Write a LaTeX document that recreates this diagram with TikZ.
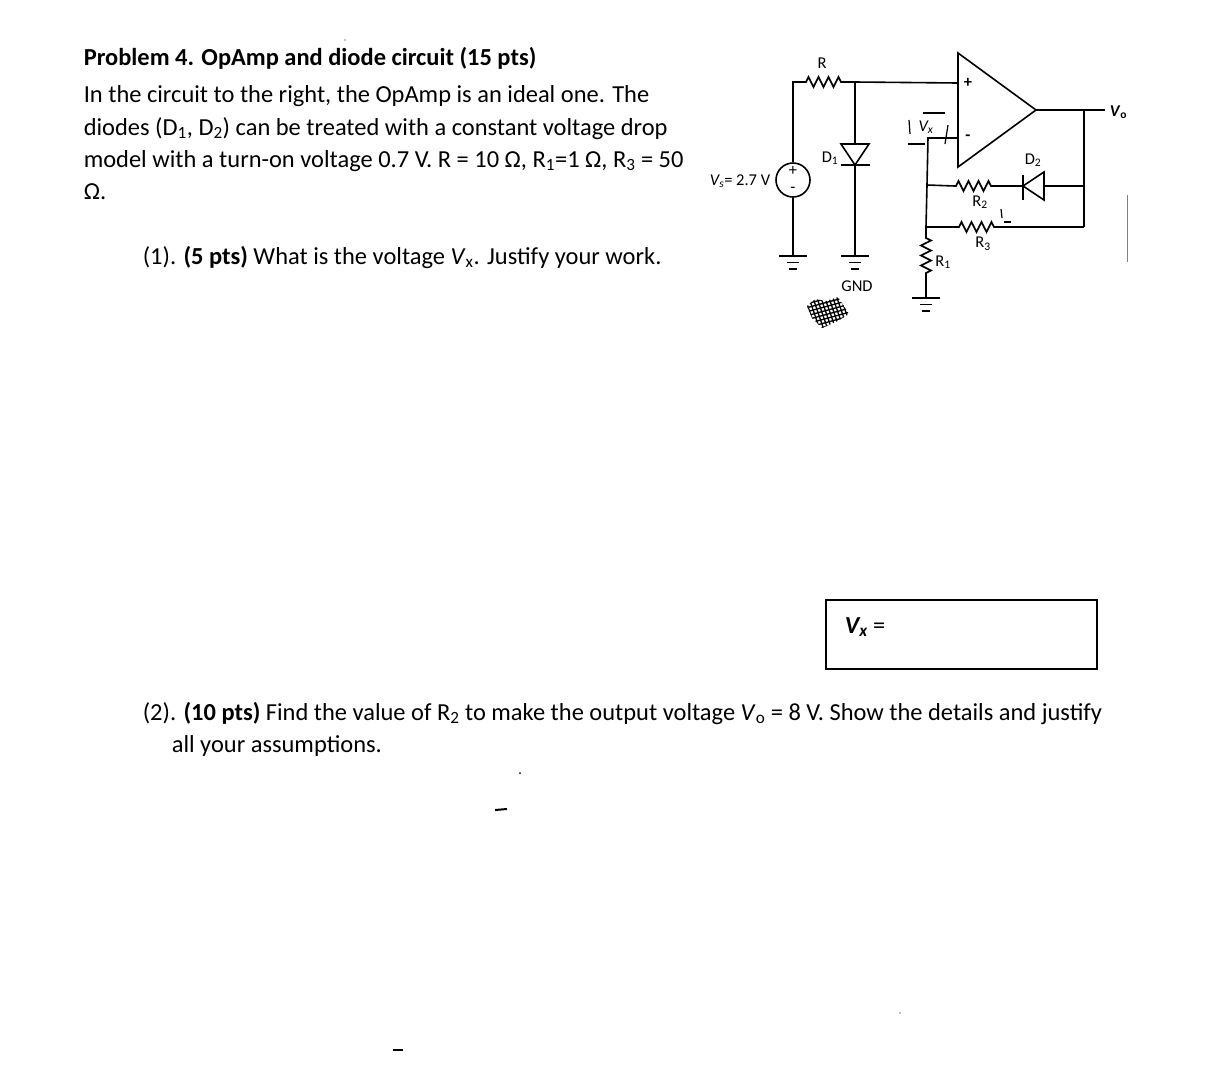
\documentclass[tikz,border=0pt]{standalone}
\usepackage{fontspec}
\setmainfont{Carlito}
\usetikzlibrary{decorations.pathmorphing}
\newcommand{\gnd}[1]{
	\draw (#1) +(-14,0) -- +(14,0);
	\draw (#1) +(-6,6.5) -- +(6,6.5);
	\draw (#1) +(-4,13) -- +(4,13);
}
\newcommand{\sub}[1]{\textsubscript{#1}}
\begin{document}
\begin{tikzpicture}[x=1pt, y=-1pt, line width=1.6pt]
	\tikzstyle{every node} = [inner sep=0pt]
	\tikzstyle{body} = [anchor=base west, font=\fontsize{24.45}{24}\selectfont]
	\tikzstyle{small} = [font=\fontsize{16.5}{16}\selectfont]
	\tikzstyle{res} = [decorate, decoration={zigzag, segment length=10, amplitude=5, pre length=1, post length=1}]
	\useasboundingbox (0,0) rectangle (1215,1072);
	% text
	\node [body] (title) at (83,65) {\textbf{Problem 4. OpAmp and diode circuit (15 pts)}};
	\node [body] (l1) at (83,102) {In the circuit to the right, the OpAmp is an ideal one. The};
	\node [body] (l2) at (83,135) {diodes (D\sub{1}, D\sub{2}) can be treated with a constant voltage drop};
	\node [body] (l3) at (83,167) {model with a turn-on voltage 0.7 V. R = 10 Ω, R\sub{1}=1 Ω, R\sub{3} = 50};
	\node [body] (l4) at (83,199) {Ω.};
	\node [body] (q1) at (142,264) {(1). \textbf{(5 pts)} What is the voltage \textit{V}\sub{x}. Justify your work.};
	\node [body] (q2) at (142,720) {(2). \textbf{(10 pts)} Find the value of R\sub{2} to make the output voltage \textit{V}\sub{o} = 8 V. Show the details and justify};
	\node [body] (q2b) at (171,752) {all your assumptions.};
	% answer box
	\node [draw, minimum width=271, minimum height=69] (box) at (961.5,634.5) {};
	\node [body] (vx) at (844,633) {\textbf{\textit{V\sub{x}}} =};
	% left part
	\node [draw, circle, minimum size=34] (vs) at (793,180) {};
	\node [small] (plus) at (793,171) {+};
	\node [small] (minus) at (793,190) {-};
	\coordinate (nw) at (793,82);
	\coordinate (ra) at (805,82);
	\coordinate (rb) at (845,82);
	\coordinate (j1) at (855,82);
	\coordinate (g1) at (793,256);
	\coordinate (g2) at (855,256);
	\coordinate (d1a) at (855,144);
	\coordinate (d1b) at (855,165);
	\draw (vs.north) -- (nw) -- (ra);
	\draw [res] (ra) -- (rb);
	\draw (rb) -- (j1);
	\draw (vs.south) -- (g1);
	\draw (j1) -- (d1a);
	\draw (d1b) -- (g2);
	\draw (d1a) +(-14,0) -- +(14,0) -- (d1b) -- cycle;
	\draw (d1b) +(-14,0) -- +(15,0);
	\gnd{g1}
	\gnd{g2}
	\node [small] (r) at (822,63) {R};
	\node [small, anchor=east] (vsl) at (771,181) {\textit{V\sub{s}}= 2.7 V};
	\node [small] (d1) at (830,158) {D\sub{1}};
	\node [small] (gndl) at (857,286) {GND};
	% opamp
	\coordinate (oa) at (958,53);
	\coordinate (ob) at (958,167);
	\coordinate (oc) at (1036,110);
	\coordinate (ip) at (958,83);
	\coordinate (im) at (958,138);
	\coordinate (vo) at (1105,110);
	\coordinate (fb) at (1084,110);
	\draw (oa) -- (oc) -- (ob) -- cycle;
	\draw (j1) -- (ip);
	\draw (oc) -- (vo);
	\node [small] (ipl) at (968,83) {\textbf{+}};
	\node [small] (iml) at (968,138) {\textbf{-}};
	% feedback
	\coordinate (n) at (928,138);
	\coordinate (n2) at (927,185);
	\coordinate (n3) at (926,227);
	\coordinate (r1a) at (926,237);
	\coordinate (r1b) at (926,278);
	\coordinate (g3) at (926,298);
	\coordinate (r2a) at (955,186);
	\coordinate (r2b) at (995,186);
	\coordinate (d2a) at (1023,186);
	\coordinate (d2b) at (1044,186);
	\coordinate (fb2) at (1084,186);
	\coordinate (r3a) at (958,227);
	\coordinate (r3b) at (997,227);
	\coordinate (fb3) at (1084,227);
	\draw (im) -- (n) -- (n2) -- (n3) -- (r1a);
	\draw [res] (r1a) -- (r1b);
	\draw (r1b) -- (g3);
	\gnd{g3}
	\draw (n2) -- (r2a);
	\draw [res] (r2a) -- (r2b);
	\draw (r2b) -- (d2a);
	\draw (d2a) -- (1044,172) -- (1044,200) -- cycle;
	\draw (1023,175) -- (1023,200);
	\draw (d2b) -- (fb2);
	\draw (n3) -- (r3a);
	\draw [res] (r3a) -- (r3b);
	\draw (r3b) -- (fb3);
	\draw (fb) -- (fb2) -- (fb3);
	\node [small] (r1) at (943,262) {R\sub{1}};
	\node [small] (r2) at (980,202) {R\sub{2}};
	\node [small] (r3) at (983,244) {R\sub{3}};
	\node [small] (d2) at (1033,160) {D\sub{2}};
	\node [small, anchor=west] (vol) at (1109,112) {\textbf{\textit{V}\sub{o}}};
	\node [small] (vxl) at (926,127) {\textit{V\sub{x}}};
	% marks around Vx
	\draw [line width=1.2pt] (909,120) -- (910,134);
	\draw [line width=1.2pt] (923,113) -- (945,113);
	\draw [line width=1.2pt] (908,144) -- (925,144);
	\draw [line width=1.2pt] (948,125) -- (945,144);
	\draw [line width=1.2pt] (1001,209) -- (1002,218);
	\draw [line width=1.2pt] (1004,222) -- (1011,222);
	\draw [line width=1pt, gray] (1127,195) -- (1127,262);
	% scribble
	\begin{scope}[line width=1.3pt]
		\clip (807,306) -- (815,299) -- (826,301) -- (838,297) -- (849,314) -- (836,322) -- (822,328) -- (812,318) -- cycle;
		\foreach \s in {-24,-20,...,24} {
			\draw (828+\s,295) -- (828+\s+12,330);
			\draw (806,312+\s) -- (850,312+\s-12);
		}
	\end{scope}
	% specks
	\fill (520,773) circle (1);
	\fill (345,40) circle (.7);
	\fill (900,1013) circle (.7);
	\draw [line width=2pt] (495,810) -- (507,809);
	\draw [line width=1.2pt] (393,1050) -- (403,1050);
\end{tikzpicture}
\end{document}
